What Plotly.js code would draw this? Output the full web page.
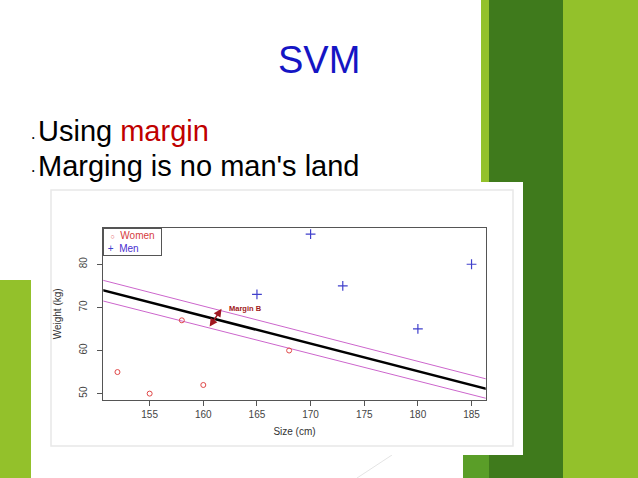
<!DOCTYPE html>
<html>
<head>
<meta charset="utf-8">
<script src="https://cdn.plot.ly/plotly-3.0.1.min.js"></script>
<style>html,body{margin:0;padding:0;background:#fff;}#chart{width:638px;height:478px;}</style>
</head>
<body>
<div id="chart"></div>
<script>
// ---- data ----
var womenSize   = [152, 155, 158, 160, 168];
var womenWeight = [55, 50, 67, 52, 60];
var menSize     = [165, 170, 173, 180, 185];
var menWeight   = [73, 87, 75, 65, 80];
var lineSize        = [150, 187];
var hyperplaneWeight = [74.4, 50.7];
var upperWeight      = [76.7, 53.0];
var lowerWeight      = [71.9, 48.5];
var arrowSize   = [160.5, 161.7];
var arrowWeight = [65.2, 69.7];
var xTicks = [155, 160, 165, 170, 175, 180, 185];
var yTicks = [50, 60, 70, 80];
var seriesNames = ['Women', 'Men'];

var W = 638, H = 478;
function PX(x){ return x / W; }
function PY(y){ return 1 - y / H; }

var womenColor = '#e04848', menColor = '#4040cc';

var traces = [
  {x: lineSize, y: upperWeight, mode: 'lines', line: {color: '#cc66cc', width: 1}, showlegend: false, hoverinfo: 'skip'},
  {x: lineSize, y: lowerWeight, mode: 'lines', line: {color: '#cc66cc', width: 1}, showlegend: false, hoverinfo: 'skip'},
  {x: lineSize, y: hyperplaneWeight, mode: 'lines', line: {color: '#000000', width: 2.5}, showlegend: false, hoverinfo: 'skip'},
  {x: womenSize, y: womenWeight, mode: 'markers', name: seriesNames[0], showlegend: false,
   marker: {symbol: 'circle-open', size: 5, color: womenColor, line: {width: 1, color: womenColor}}},
  {x: menSize, y: menWeight, mode: 'markers', name: seriesNames[1], showlegend: false,
   marker: {symbol: 'cross-thin-open', size: 7, color: menColor, line: {width: 1.2, color: menColor}}}
];

var shapes = [
  // slide decorations
  {type:'rect', xref:'paper', yref:'paper', x0:PX(563), x1:PX(638), y0:PY(0), y1:PY(478), fillcolor:'#93c12b', line:{width:0}, layer:'below'},
  {type:'rect', xref:'paper', yref:'paper', x0:PX(489), x1:PX(563), y0:PY(0), y1:PY(478), fillcolor:'#3f7a1c', line:{width:0}, layer:'below'},
  {type:'rect', xref:'paper', yref:'paper', x0:PX(481), x1:PX(489), y0:PY(0), y1:PY(182), fillcolor:'#93c12b', line:{width:0}, layer:'below'},
  {type:'rect', xref:'paper', yref:'paper', x0:PX(463), x1:PX(489), y0:PY(455), y1:PY(478), fillcolor:'#5a9e28', line:{width:0}, layer:'below'},
  {type:'rect', xref:'paper', yref:'paper', x0:PX(0), x1:PX(31), y0:PY(280), y1:PY(478), fillcolor:'#93c12b', line:{width:0}, layer:'below'},
  {type:'line', xref:'paper', yref:'paper', x0:PX(357), x1:PX(392), y0:PY(478), y1:PY(455), line:{color:'#e4e4e4', width:1}, layer:'below'},
  // chart card
  {type:'rect', xref:'paper', yref:'paper', x0:PX(40), x1:PX(523), y0:PY(182), y1:PY(455), fillcolor:'#ffffff', line:{width:0}, layer:'below'},
  {type:'rect', xref:'paper', yref:'paper', x0:PX(51), x1:PX(513), y0:PY(190), y1:PY(446), fillcolor:'#ffffff', line:{color:'#e8e8e8', width:1.5}, layer:'below'}
];

var legendText =
  '&nbsp;&nbsp;<span style="color:' + womenColor + ';font-size:7px">○</span>&nbsp;&nbsp;<span style="color:#d63c3c">' + seriesNames[0] + '</span>&nbsp;&nbsp;<br>' +
  '&nbsp;<span style="color:' + menColor + '">+</span>&nbsp;&nbsp;<span style="color:#4a2fd0">' + seriesNames[1] + '</span>';

var annotations = [
  {xref:'paper', yref:'paper', x:PX(319), y:PY(60), text:'SVM', showarrow:false, xanchor:'center', yanchor:'middle',
   font:{family:'Liberation Sans, Arial', size:38, color:'#1515c4'}},
  {xref:'paper', yref:'paper', x:PX(36), y:PY(131), text:'Using <span style="color:#c00000">margin</span>', showarrow:false, xanchor:'left', yanchor:'middle',
   font:{family:'Liberation Sans, Arial', size:29, color:'#000'}},
  {xref:'paper', yref:'paper', x:PX(36), y:PY(166), text:"Marging is no man's land", showarrow:false, xanchor:'left', yanchor:'middle',
   font:{family:'Liberation Sans, Arial', size:29, color:'#000'}},
  {xref:'paper', yref:'paper', x:PX(33), y:PY(137), text:'•', showarrow:false, xanchor:'center', yanchor:'middle',
   font:{family:'Liberation Sans, Arial', size:7, color:'#000'}},
  {xref:'paper', yref:'paper', x:PX(33), y:PY(171), text:'•', showarrow:false, xanchor:'center', yanchor:'middle',
   font:{family:'Liberation Sans, Arial', size:7, color:'#000'}},
  // legend box (R-style)
  {xref:'paper', yref:'paper', x:PX(103.3), y:PY(227.7), xanchor:'left', yanchor:'top', align:'left', showarrow:false,
   text: legendText, bgcolor:'#ffffff', bordercolor:'#555', borderwidth:1, borderpad:1,
   font:{family:'Liberation Sans, Arial', size:10, color:'#333'}},
  // margin arrow
  {xref:'x', yref:'y', axref:'x', ayref:'y', x:arrowSize[1], y:arrowWeight[1], ax:arrowSize[0], ay:arrowWeight[0],
   text:'', showarrow:true, arrowhead:2, startarrowhead:2, arrowside:'end+start', arrowwidth:1.6, arrowsize:1, startarrowsize:1, arrowcolor:'#a01820'},
  {xref:'x', yref:'y', x:162.2, y:69.7, text:'<b>Margin B</b>', showarrow:false, xanchor:'left', yanchor:'middle',
   font:{family:'Liberation Sans, Arial', size:7.5, color:'#a01820'}}
];

var axisCommon = {showgrid:false, zeroline:false, showline:true, mirror:true, linecolor:'#555', linewidth:1,
  ticks:'outside', ticklen:5, tickcolor:'#555', tickfont:{family:'Liberation Sans, Arial', size:10, color:'#444'}};

var layout = {
  width: W, height: H,
  margin: {l:0, r:0, t:0, b:0},
  paper_bgcolor: '#ffffff', plot_bgcolor: 'rgba(0,0,0,0)',
  showlegend: false,
  xaxis: Object.assign({}, axisCommon, {domain:[PX(103.3), PX(485.7)], range:[150.68, 186.32], tickvals:xTicks,
    title:{text:'Size (cm)', font:{family:'Liberation Sans, Arial', size:10, color:'#333'}, standoff:8}}),
  yaxis: Object.assign({}, axisCommon, {domain:[PY(400), PY(227.7)], range:[48.52, 88.48], tickvals:yTicks, tickangle:-90,
    ticklabelstandoff:6,
    title:{text:'Weight (kg)', font:{family:'Liberation Sans, Arial', size:10, color:'#333'}, standoff:14}}),
  shapes: shapes,
  annotations: annotations
};

Plotly.newPlot('chart', traces, layout, {displayModeBar:false, staticPlot:true});
</script>
</body>
</html>
